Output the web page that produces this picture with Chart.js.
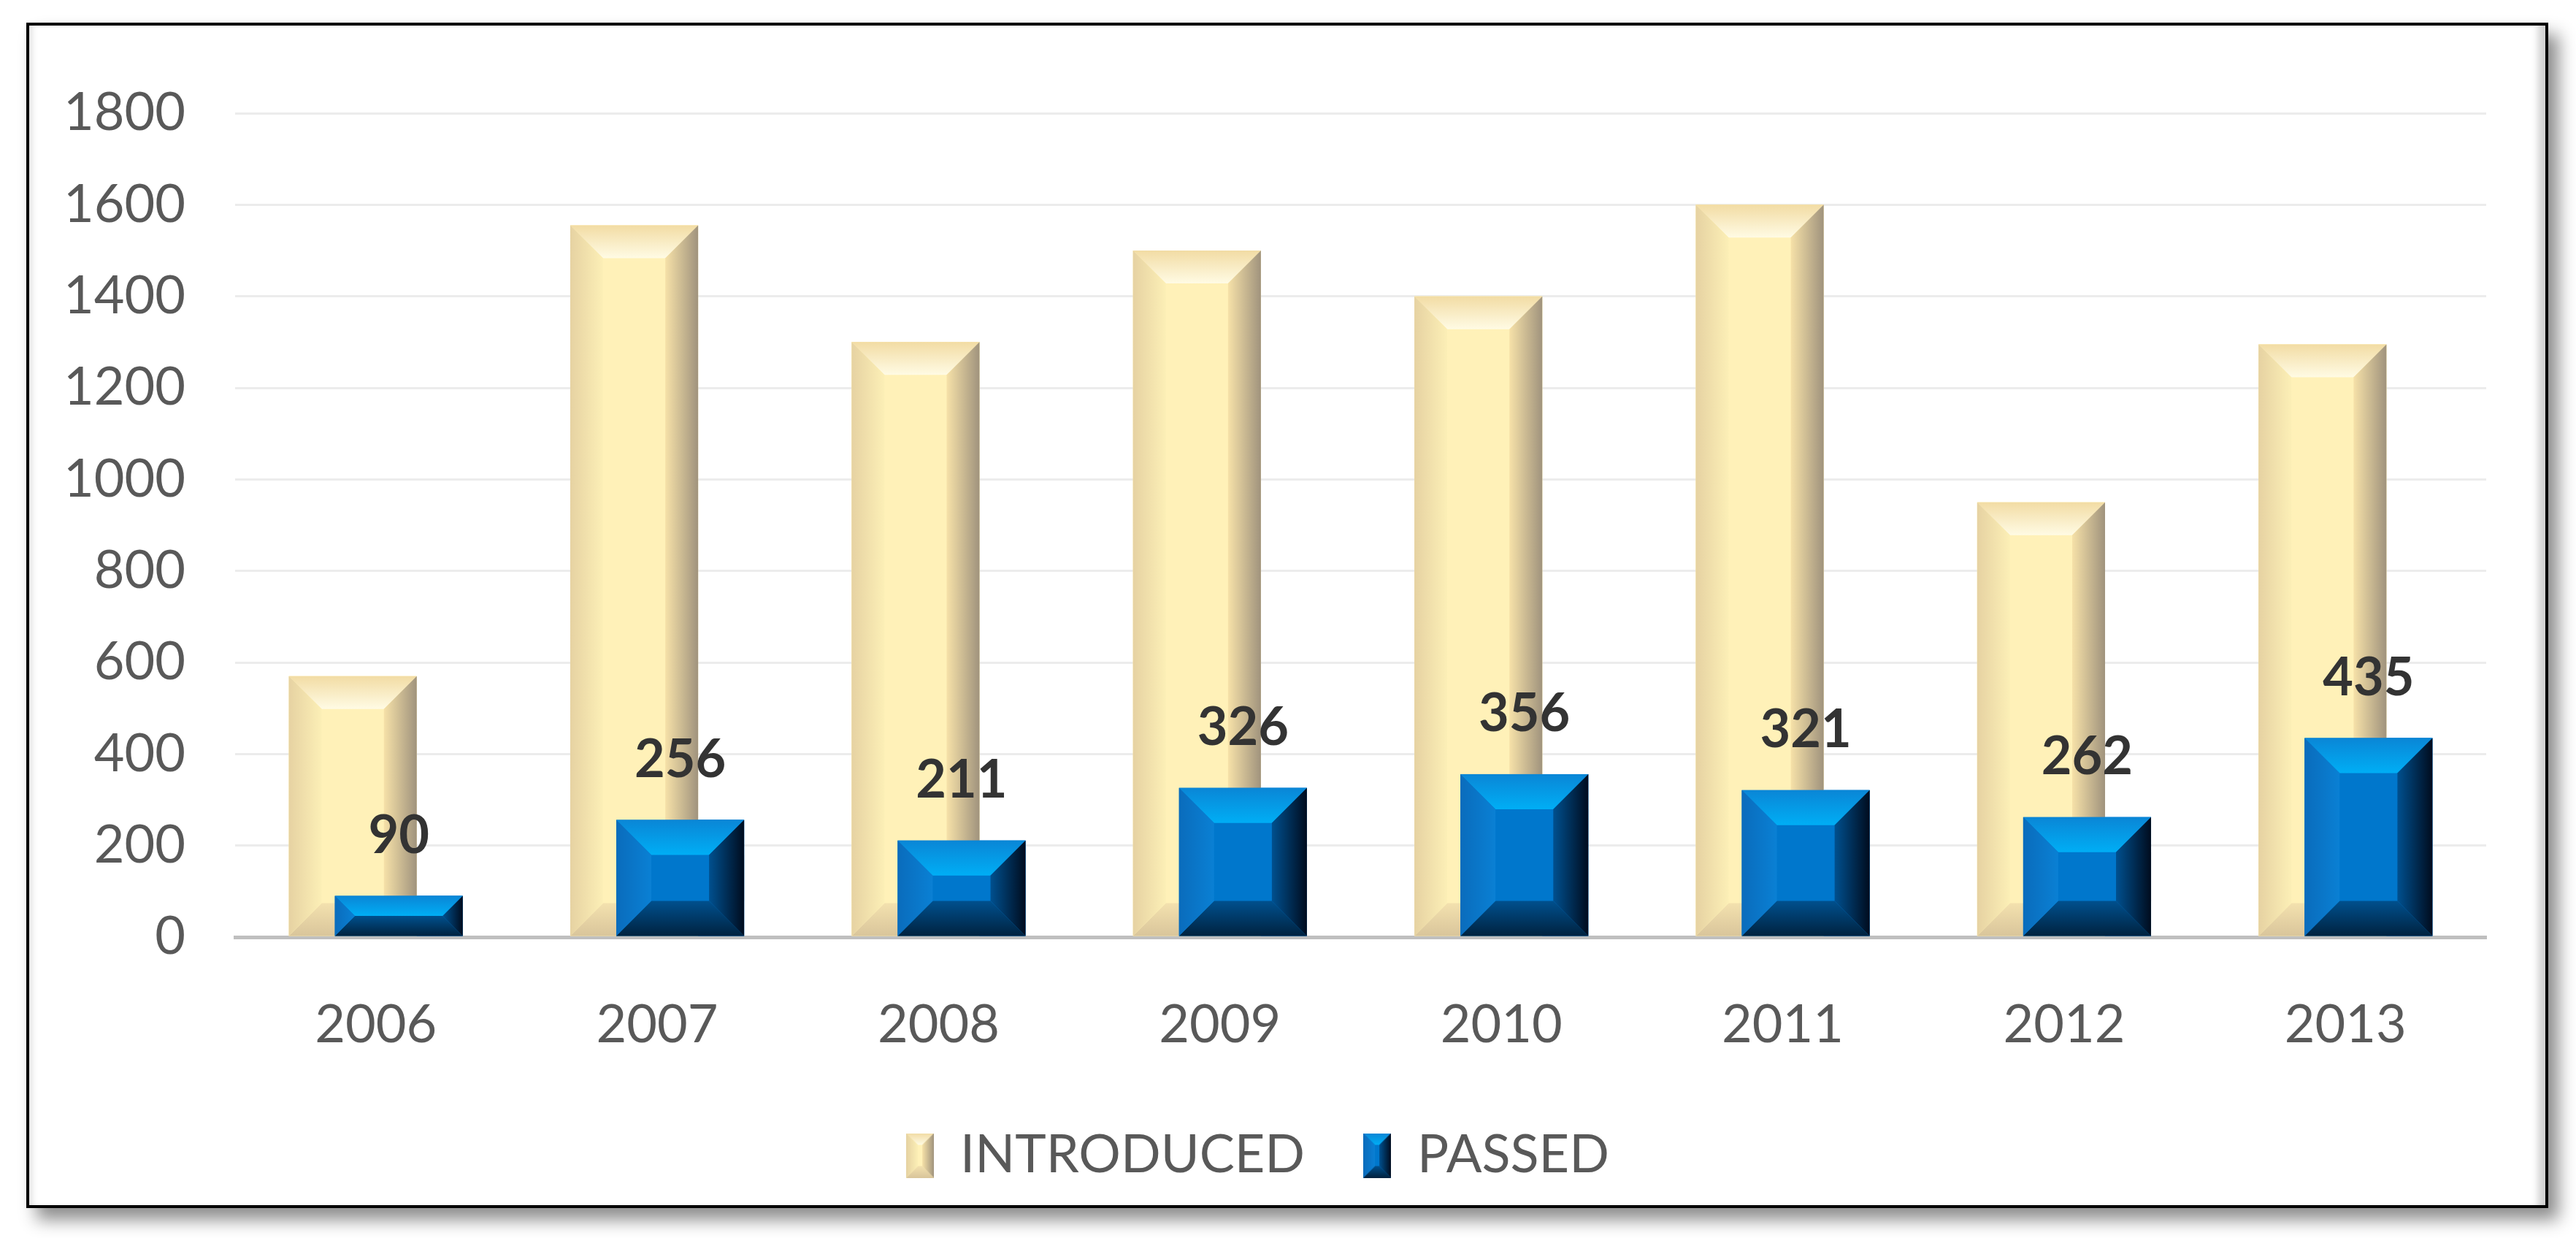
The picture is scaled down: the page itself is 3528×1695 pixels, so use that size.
<!DOCTYPE html>
<html>
<head>
<meta charset="utf-8">
<title>Introduced vs Passed</title>
<script src="https://cdn.jsdelivr.net/npm/chart.js@4.4.0/dist/chart.umd.min.js"></script>
<style>
  html, body { margin: 0; padding: 0; background: #fff; }
  body { width: 3528px; height: 1695px; position: relative; overflow: hidden; }
  #frame {
    position: absolute; left: 36px; top: 31px; width: 3454px; height: 1623px;
    box-sizing: border-box; border: 4px solid #000; background: #fff;
    box-shadow: 14px 16px 22px rgba(0,0,0,0.45),
                inset 8px 0 8px -4px rgba(0,0,0,0.12),
                inset -16px 0 10px -6px rgba(0,0,0,0.18);
  }
  #wrap { position: absolute; left: 0; top: 0; width: 3446px; height: 1615px; }
</style>
</head>
<body>
<div id="frame"><div id="wrap"><canvas id="chart"></canvas></div></div>
<script>
// データ
const years = ['2006', '2007', '2008', '2009', '2010', '2011', '2012', '2013'];
const introduced = [570, 1555, 1300, 1500, 1400, 1600, 950, 1295];
const passed = [90, 256, 211, 326, 356, 321, 262, 435];
const yMin = 0;
const yMax = 1800;
const yStep = 200;

// ベベル用の色 (外側 → 内側)
const introPalette = {
  center: '#fff1b8',
  top: ['#f2dca4', '#fffbe4'],
  bottom: ['#d9c59b', '#f3e1ae'],
  left: ['#e6d2a2', '#fcefb6'],
  right: ['#a0937d', '#f6e1a8']
};
const passedPalette = {
  center: '#0077cc',
  top: ['#0a86d6', '#00aef5'],
  bottom: ['#00223f', '#00508e'],
  left: ['#0a6cbc', '#0a80d4'],
  right: ['#000c1e', '#00508f']
};

const FONT = "Lato, 'Open Sans', sans-serif";

function grad(ctx, x0, y0, x1, y1, stops) {
  const g = ctx.createLinearGradient(x0, y0, x1, y1);
  g.addColorStop(0, stops[0]);
  g.addColorStop(1, stops[1]);
  return g;
}

function facet(ctx, pts, fill) {
  ctx.beginPath();
  ctx.moveTo(pts[0][0], pts[0][1]);
  for (let i = 1; i < pts.length; i++) ctx.lineTo(pts[i][0], pts[i][1]);
  ctx.closePath();
  ctx.fillStyle = fill;
  ctx.fill();
}

// 面取りされた棒を描く
function drawBevel(ctx, l, t, r, b, pal, depth) {
  const d = Math.max(0, Math.min(depth, (r - l) / 2, (b - t) / 2));
  ctx.save();
  ctx.fillStyle = pal.center;
  ctx.fillRect(l, t, r - l, b - t);
  if (d > 0) {
    facet(ctx, [[l, t], [r, t], [r - d, t + d], [l + d, t + d]], grad(ctx, 0, t, 0, t + d, pal.top));
    facet(ctx, [[l, b], [r, b], [r - d, b - d], [l + d, b - d]], grad(ctx, 0, b, 0, b - d, pal.bottom));
    facet(ctx, [[l, t], [l + d, t + d], [l + d, b - d], [l, b]], grad(ctx, l, 0, l + d, 0, pal.left));
    facet(ctx, [[r, t], [r - d, t + d], [r - d, b - d], [r, b]], grad(ctx, r, 0, r - d, 0, pal.right));
  }
  ctx.restore();
}

// 凡例用のスウォッチ
function makeSwatch(pal) {
  const c = document.createElement('canvas');
  c.width = 38;
  c.height = 61;
  drawBevel(c.getContext('2d'), 0, 0, 38, 61, pal, 16);
  return c;
}
const swatches = [makeSwatch(introPalette), makeSwatch(passedPalette)];
const palettes = [introPalette, passedPalette];
const depths = [45, 48];

const bevelPlugin = {
  id: 'bevel',
  afterDatasetsDraw(chart) {
    const ctx = chart.ctx;
    const area = chart.chartArea;
    ctx.save();
    ctx.beginPath();
    ctx.rect(area.left, area.top - 5, area.width, area.height + 5);
    ctx.clip();
    // INTRODUCED を先に、PASSED を上に重ねる
    [0, 1].forEach(di => {
      chart.getDatasetMeta(di).data.forEach(bar => {
        const half = bar.width / 2;
        drawBevel(ctx, bar.x - half, bar.y, bar.x + half, bar.base, palettes[di], depths[di]);
      });
    });
    ctx.restore();

    // PASSED の値ラベル
    ctx.save();
    ctx.font = 'bold 72px ' + FONT;
    ctx.fillStyle = '#333333';
    ctx.textAlign = 'center';
    ctx.textBaseline = 'middle';
    chart.getDatasetMeta(1).data.forEach((bar, i) => {
      ctx.fillText(String(passed[i]), bar.x, bar.y - 82);
    });
    ctx.restore();
  }
};

const ctx = document.getElementById('chart').getContext('2d');
new Chart(ctx, {
  type: 'bar',
  data: {
    labels: years,
    datasets: [
      {
        label: 'INTRODUCED',
        data: introduced,
        backgroundColor: introPalette.center,
        categoryPercentage: 0.327,
        barPercentage: 2.78
      },
      {
        label: 'PASSED',
        data: passed,
        backgroundColor: passedPalette.center,
        categoryPercentage: 0.327,
        barPercentage: 2.78
      }
    ]
  },
  plugins: [bevelPlugin],
  options: {
    responsive: true,
    maintainAspectRatio: false,
    animation: false,
    layout: { padding: { top: 120, right: 81, left: 0, bottom: 22 } },
    scales: {
      x: {
        afterFit(scale) { scale.height = 183; },
        grid: { display: false, drawTicks: false },
        border: { display: true, color: '#bfbfbf', width: 5 },
        ticks: { color: '#595959', font: { family: FONT, size: 72 }, padding: 78 }
      },
      y: {
        min: yMin,
        max: yMax,
        afterFit(scale) { scale.width = 282; },
        grid: { color: '#ececec', lineWidth: 3, drawTicks: false },
        border: { display: false },
        ticks: {
          stepSize: yStep,
          color: '#595959',
          font: { family: FONT, size: 72 },
          padding: 68,
          callback: value => String(value)
        }
      }
    },
    plugins: {
      tooltip: { enabled: false },
      legend: {
        position: 'bottom',
        labels: {
          usePointStyle: true,
          pointStyleWidth: 38,
          boxHeight: 61,
          padding: 80,
          color: '#595959',
          font: { family: FONT, size: 72 },
          generateLabels(chart) {
            const items = Chart.defaults.plugins.legend.labels.generateLabels(chart);
            items.forEach((it, i) => { it.pointStyle = swatches[i]; });
            return items;
          }
        }
      }
    }
  }
});
</script>
</body>
</html>
